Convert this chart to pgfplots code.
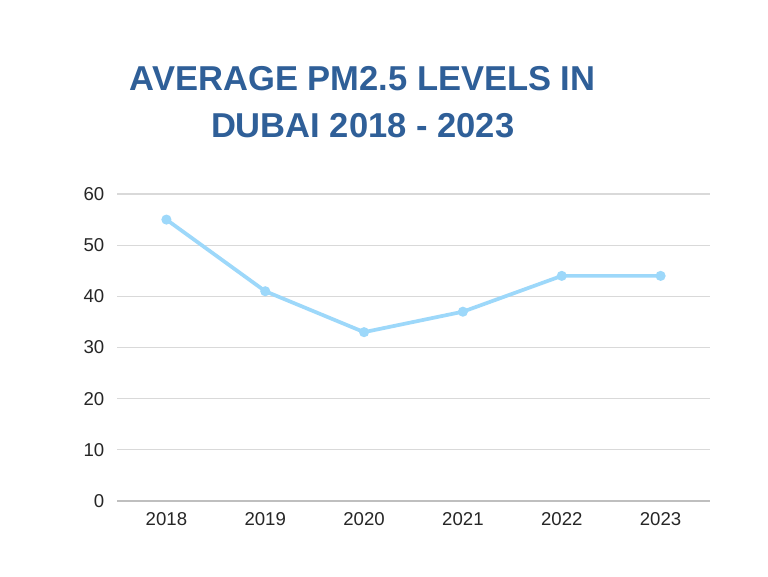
\documentclass[border=0pt]{standalone}
\usepackage{pgfplots}
\pgfplotsset{compat=1.18}
\usepackage{fontspec}
\setmainfont{Liberation Sans}
\definecolor{titleblue}{HTML}{2F5F98}
\definecolor{linec}{HTML}{9DD8FA}
\definecolor{gridc}{HTML}{D9D9D9}
\definecolor{axisc}{HTML}{BFBFBF}
\begin{document}
\begin{tikzpicture}[x=1bp,y=1bp]
\path[fill=white] (0,0) rectangle (576,432);
\useasboundingbox (0,0) rectangle (576,432);
\node[font=\fontsize{26}{30}\selectfont\bfseries, text=titleblue, align=center] at (272,373) {AVERAGE PM2.5 LEVELS IN};
\node[font=\fontsize{26}{30}\selectfont\bfseries, text=titleblue, align=center] at (272,337.7) {DUBAI 2018 - 2023};
\begin{axis}[
  at={(87.75bp,56.25bp)}, anchor=south west,
  scale only axis, width=444.75bp, height=230.25bp,
  xmin=-0.5, xmax=5.5, ymin=0, ymax=60,
  xtick={0,1,2,3,4,5}, xticklabels={2018,2019,2020,2021,2022,2023},
  ytick={0,10,20,30,40,50,60},
  ymajorgrids, grid style={gridc, line width=0.8pt},
  axis x line*=bottom, axis y line*=left,
  x axis line style={axisc, line width=1.5pt, -},
  y axis line style={draw=none},
  major tick length=0pt,
  tick label style={font=\fontsize{14}{16}\selectfont, text=black!85},
  /pgf/number format/assume math mode=true,
  xticklabel style={yshift=-5bp},
  yticklabel style={xshift=-6bp},
  clip=false,
]
\addplot[linec, line width=2.8pt, mark=*, mark size=2.3pt, mark options={fill=linec, draw=linec}] coordinates {
(0,55) (1,41) (2,33) (3,37) (4,44) (5,44)};
\end{axis}
\end{tikzpicture}
\end{document}
